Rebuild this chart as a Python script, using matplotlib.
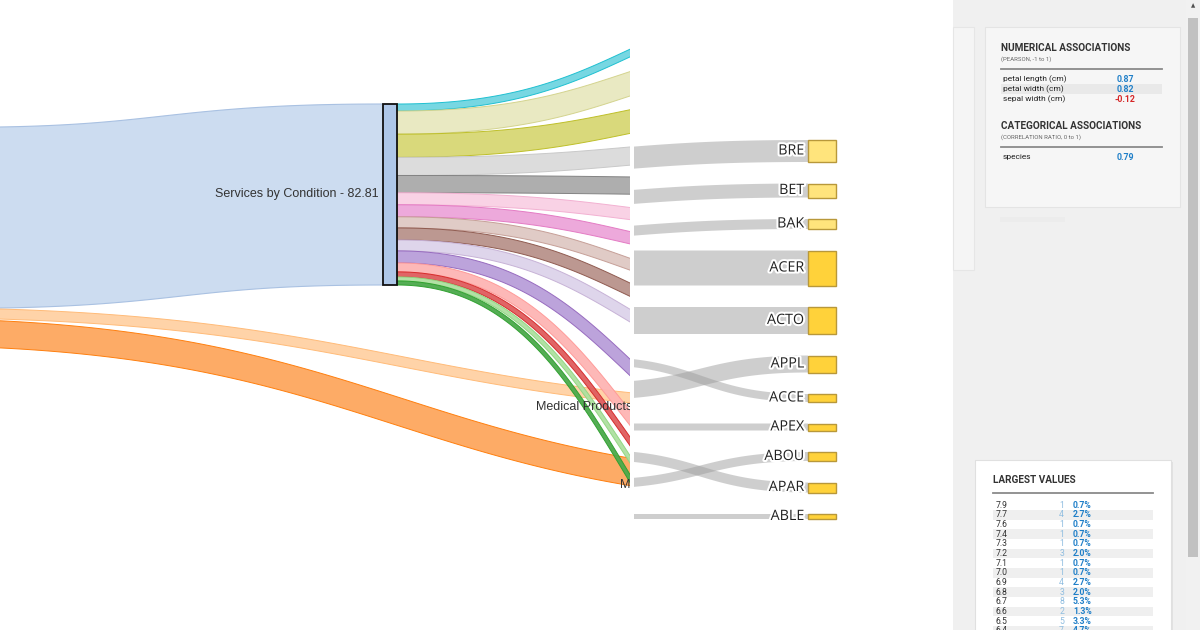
import numpy as np
import matplotlib
matplotlib.use("Agg")
import matplotlib.pyplot as plt
from matplotlib.patches import Polygon, Rectangle
import matplotlib.patheffects as pe

# ---- data -------------------------------------------------------------
svc_label = "Services by Condition - 82.81"
svc_total = 82.81
# outgoing links of "Services by Condition" (top to bottom)
svc_out_values = [3.2, 10.6, 10.6, 8.3, 7.9, 5.5, 5.5, 5.1, 5.5, 5.0, 5.5, 4.1, 2.3, 1.85, 1.86]
svc_out_fill = ['#70d5e1', '#e8e8bf', '#d7d774', '#dbdbdb', '#aaaaaa', '#f9d0e4', '#eca5d9',
                '#dfc9c3', '#b9938b', '#ddd3ea', '#b99ed9', '#fdb4b3', '#df5d5e', '#aee0a0', '#4ca94c']
svc_out_edge = ['#17becf', '#d2d28a', '#bcbd22', '#c7c7c7', '#7f7f7f', '#f2aed0', '#e377c2',
                '#c49c94', '#8c564b', '#c5b0d5', '#9467bd', '#ff9896', '#d62728', '#8fd67f', '#2ca02c']
# streams into the medical products nodes
med_labels = ["Medical Products", "M"]
med_values = [4.6, 12.4]
med_fill = ['#ffd3a8', '#fdab66']
med_edge = ['#ffbb78', '#ff7f0e']

# right hand sankey (tickers)
tick_labels = ['BRE', 'BET', 'BAK', 'ACER', 'ACTO', 'APPL', 'ACCE', 'APEX', 'ABOU', 'APAR', 'ABLE']
tick_values = [2.2, 1.4, 1.0, 3.5, 2.7, 1.7, 0.8, 0.7, 0.9, 1.0, 0.5]
tick_colors = ['#ffe47c', '#ffe47c', '#ffe47c', '#ffd23a', '#ffd23a', '#ffd23a',
               '#ffd23a', '#ffd23a', '#ffd23a', '#ffd23a', '#ffd23a']

# profile panel
num_names = ['petal length (cm)', 'petal width (cm)', 'sepal width (cm)']
num_values = [0.87, 0.82, -0.12]
cat_names = ['species']
cat_values = [0.79]
large_values = [7.9, 7.7, 7.6, 7.4, 7.3, 7.2, 7.1, 7.0, 6.9, 6.8, 6.7, 6.6, 6.5, 6.4]
large_counts = [1, 4, 1, 1, 1, 3, 1, 1, 4, 3, 8, 2, 5, 7]
n_rows = 150

# ---- layout (pixels) ---------------------------------------------------
node_x, node_w, node_top, node_h = 383, 14, 104, 181
src_x, src_top = -40, 127.3
out_target_x = 860
out_target_y = [0, 46, 98, 146, 187, 228, 264, 305, 344, 384, 475, 565, 604, 635, 669]
med_src = [(-100, 312.6), (-100, 332)]
med_tgt = [(900, 410), (900, 492)]
tick_node_x, tick_node_w, tick_top, tick_pad, tick_scale = 808, 28, 140, 21.5, 10
tick_src_x = [450, 450, 450, 592, 592, 592, 592, 592, 592, 592, 592]
tick_src_y = [165, 204, 238, None, None, 391, 361, None, 484, 455, None]


def band(x0, y0, x1, y1, w, n=160):
    t = np.linspace(0, 1, n)
    xm = (x0 + x1) / 2
    bx = (1 - t) ** 3 * x0 + 3 * (1 - t) ** 2 * t * xm + 3 * (1 - t) * t ** 2 * xm + t ** 3 * x1
    by = (1 - t) ** 3 * y0 + 3 * (1 - t) ** 2 * t * y0 + 3 * (1 - t) * t ** 2 * y1 + t ** 3 * y1
    dx, dy = np.gradient(bx), np.gradient(by)
    nrm = np.hypot(dx, dy)
    nx, ny = -dy / nrm, dx / nrm
    top = np.column_stack([bx + nx * w / 2, by + ny * w / 2])
    bot = np.column_stack([bx - nx * w / 2, by - ny * w / 2])
    return np.vstack([top, bot[::-1]])


fig = plt.figure(figsize=(12, 6.3), dpi=100)
fig.patch.set_facecolor('white')

# background axes in pixel space (profile panel)
bg = fig.add_axes([0, 0, 1, 1])
bg.set_xlim(0, 1200)
bg.set_ylim(630, 0)
bg.axis('off')

# ---- left sankey ---------------------------------------------------------
ax = fig.add_axes([0, 0, 630 / 1200, 1])
ax.set_xlim(0, 630)
ax.set_ylim(630, 0)
ax.axis('off')
ax.patch.set_alpha(0)

px = node_h / svc_total
ax.add_patch(Polygon(band(src_x, src_top + node_h / 2, node_x, node_top + node_h / 2, node_h),
                     closed=True, facecolor='#ccdcf0', edgecolor='#a9c1e2', lw=0.8, snap=False))

for (sx, sy), (tx, ty), v, fc, ec in zip(med_src, med_tgt, med_values, med_fill, med_edge):
    ax.add_patch(Polygon(band(sx, sy, tx, ty, v * px), closed=True,
                         facecolor=fc, edgecolor=ec, lw=0.7, snap=False))

y = node_top
for v, ty, fc, ec in zip(svc_out_values, out_target_y, svc_out_fill, svc_out_edge):
    w = v * px
    ax.add_patch(Polygon(band(node_x + node_w, y + w / 2, out_target_x, ty, w), closed=True,
                         facecolor=fc, edgecolor=ec, lw=0.7, alpha=0.95, snap=False))
    y += w

ax.add_patch(Rectangle((node_x, node_top), node_w, node_h, facecolor='#aec7e8',
                       edgecolor='#111111', lw=1.3, zorder=5))
ax.text(node_x - 4, node_top + node_h / 2, svc_label, ha='right', va='center',
        fontsize=9, family='Liberation Sans', color='#333333', zorder=6)
ax.text(536, 407, med_labels[0], ha='left', va='center', fontsize=9,
        family='Liberation Sans', color='#333333', zorder=6, clip_on=True)
ax.text(620, 485, med_labels[1], ha='left', va='center', fontsize=9,
        family='Liberation Sans', color='#333333', zorder=6, clip_on=True)

# ---- ticker sankey ---------------------------------------------------------
mx = fig.add_axes([634 / 1200, 0, (850 - 634) / 1200, 1])
mx.set_xlim(634, 850)
mx.set_ylim(630, 0)
mx.axis('off')
mx.patch.set_alpha(0)

y = tick_top
for lab, v, col, sx, sy in zip(tick_labels, tick_values, tick_colors, tick_src_x, tick_src_y):
    h = v * tick_scale
    cy = y + h / 2
    start_y = cy if sy is None else sy
    mx.add_patch(Polygon(band(sx, start_y, tick_node_x, cy, h), closed=True,
                         facecolor='#9e9e9e', edgecolor='none', alpha=0.5, snap=False))
    mx.add_patch(Rectangle((tick_node_x, y), tick_node_w, h, facecolor=col,
                           edgecolor='#b8983a', lw=1.0, zorder=5))
    mx.text(tick_node_x - 4, cy, lab, ha='right', va='center', fontsize=10.3,
            family='Open Sans', color='#222222', zorder=6,
            path_effects=[pe.withStroke(linewidth=3, foreground='white')])
    y += h + tick_pad

# ---- profile panel ---------------------------------------------------------
bg.add_patch(Rectangle((953, 0), 247, 630, facecolor='#f0f0f0', edgecolor='none'))
bg.add_patch(Rectangle((953, 27), 21, 243, facecolor='#f5f5f5', edgecolor='#e6e6e6', lw=0.8))
bg.add_patch(Rectangle((985, 27), 195, 180, facecolor='#f6f6f6', edgecolor='#e4e4e4', lw=0.8))
bg.add_patch(Rectangle((1000, 217), 65, 5, facecolor='#ececec', edgecolor='none'))
bg.add_patch(Rectangle((1186, 0), 14, 630, facecolor='#f1f1f1', edgecolor='none'))
bg.add_patch(Rectangle((1188, 18), 10, 539, facecolor='#c1c1c1', edgecolor='none'))
bg.text(1193, 6, '\u25b2', ha='center', va='center', fontsize=4, color='#505050')
bg.add_patch(Rectangle((977, 462), 196, 180, facecolor='#e2e2e2', edgecolor='none'))
bg.add_patch(Rectangle((975, 460), 196, 180, facecolor='white', edgecolor='#e0e0e0', lw=0.8))

head = dict(family='Roboto', weight='bold', fontsize=7.2, color='#333333', va='center')
sub = dict(family='Roboto', fontsize=4.3, color='#666666', va='center')
cell = dict(family='Roboto', fontsize=6.0, color='#222222', va='center')
blue, red = '#1f7fc8', '#d62728'


def assoc_block(y0, title, subtitle, names, values):
    bg.text(1001, y0, title, **head)
    bg.text(1001, y0 + 11, subtitle, **sub)
    bg.plot([1001, 1162], [y0 + 21, y0 + 21], color='#8a8a8a', lw=1.3)
    for i, (nm, v) in enumerate(zip(names, values)):
        ry = y0 + 31 + i * 10
        if i % 2 == 1:
            bg.add_patch(Rectangle((1001, ry - 5), 161, 10, facecolor='#e9e9e9', edgecolor='none'))
        bg.text(1003, ry, nm, **cell)
        bg.text(1125, ry, f'{v:.2f}', ha='center', va='center', family='Roboto',
                weight='bold', fontsize=6.3, color=blue if v >= 0 else red)


assoc_block(48, 'NUMERICAL ASSOCIATIONS', '(PEARSON, -1 to 1)', num_names, num_values)
assoc_block(126, 'CATEGORICAL ASSOCIATIONS', '(CORRELATION RATIO, 0 to 1)', cat_names, cat_values)

bg.text(993, 480, 'LARGEST VALUES', **head)
bg.plot([993, 1153], [493, 493], color='#8a8a8a', lw=1.3)
for i, (v, c) in enumerate(zip(large_values, large_counts)):
    ry = 505 + i * 9.67
    if i % 2 == 1:
        bg.add_patch(Rectangle((993, ry - 4.8), 160, 9.67, facecolor='#efefef', edgecolor='none'))
    bg.text(996, ry, f'{v:.1f}', family='Roboto', fontsize=6.2, color='#333333', va='center')
    bg.text(1064, ry, str(c), ha='right', va='center', family='Roboto', fontsize=6.2, color='#8fbde0')
    bg.text(1073, ry, f'{c / n_rows * 100:.1f}%', ha='left', va='center', family='Roboto',
            weight='bold', fontsize=6.2, color=blue)

fig.savefig('out.png', dpi=100)
